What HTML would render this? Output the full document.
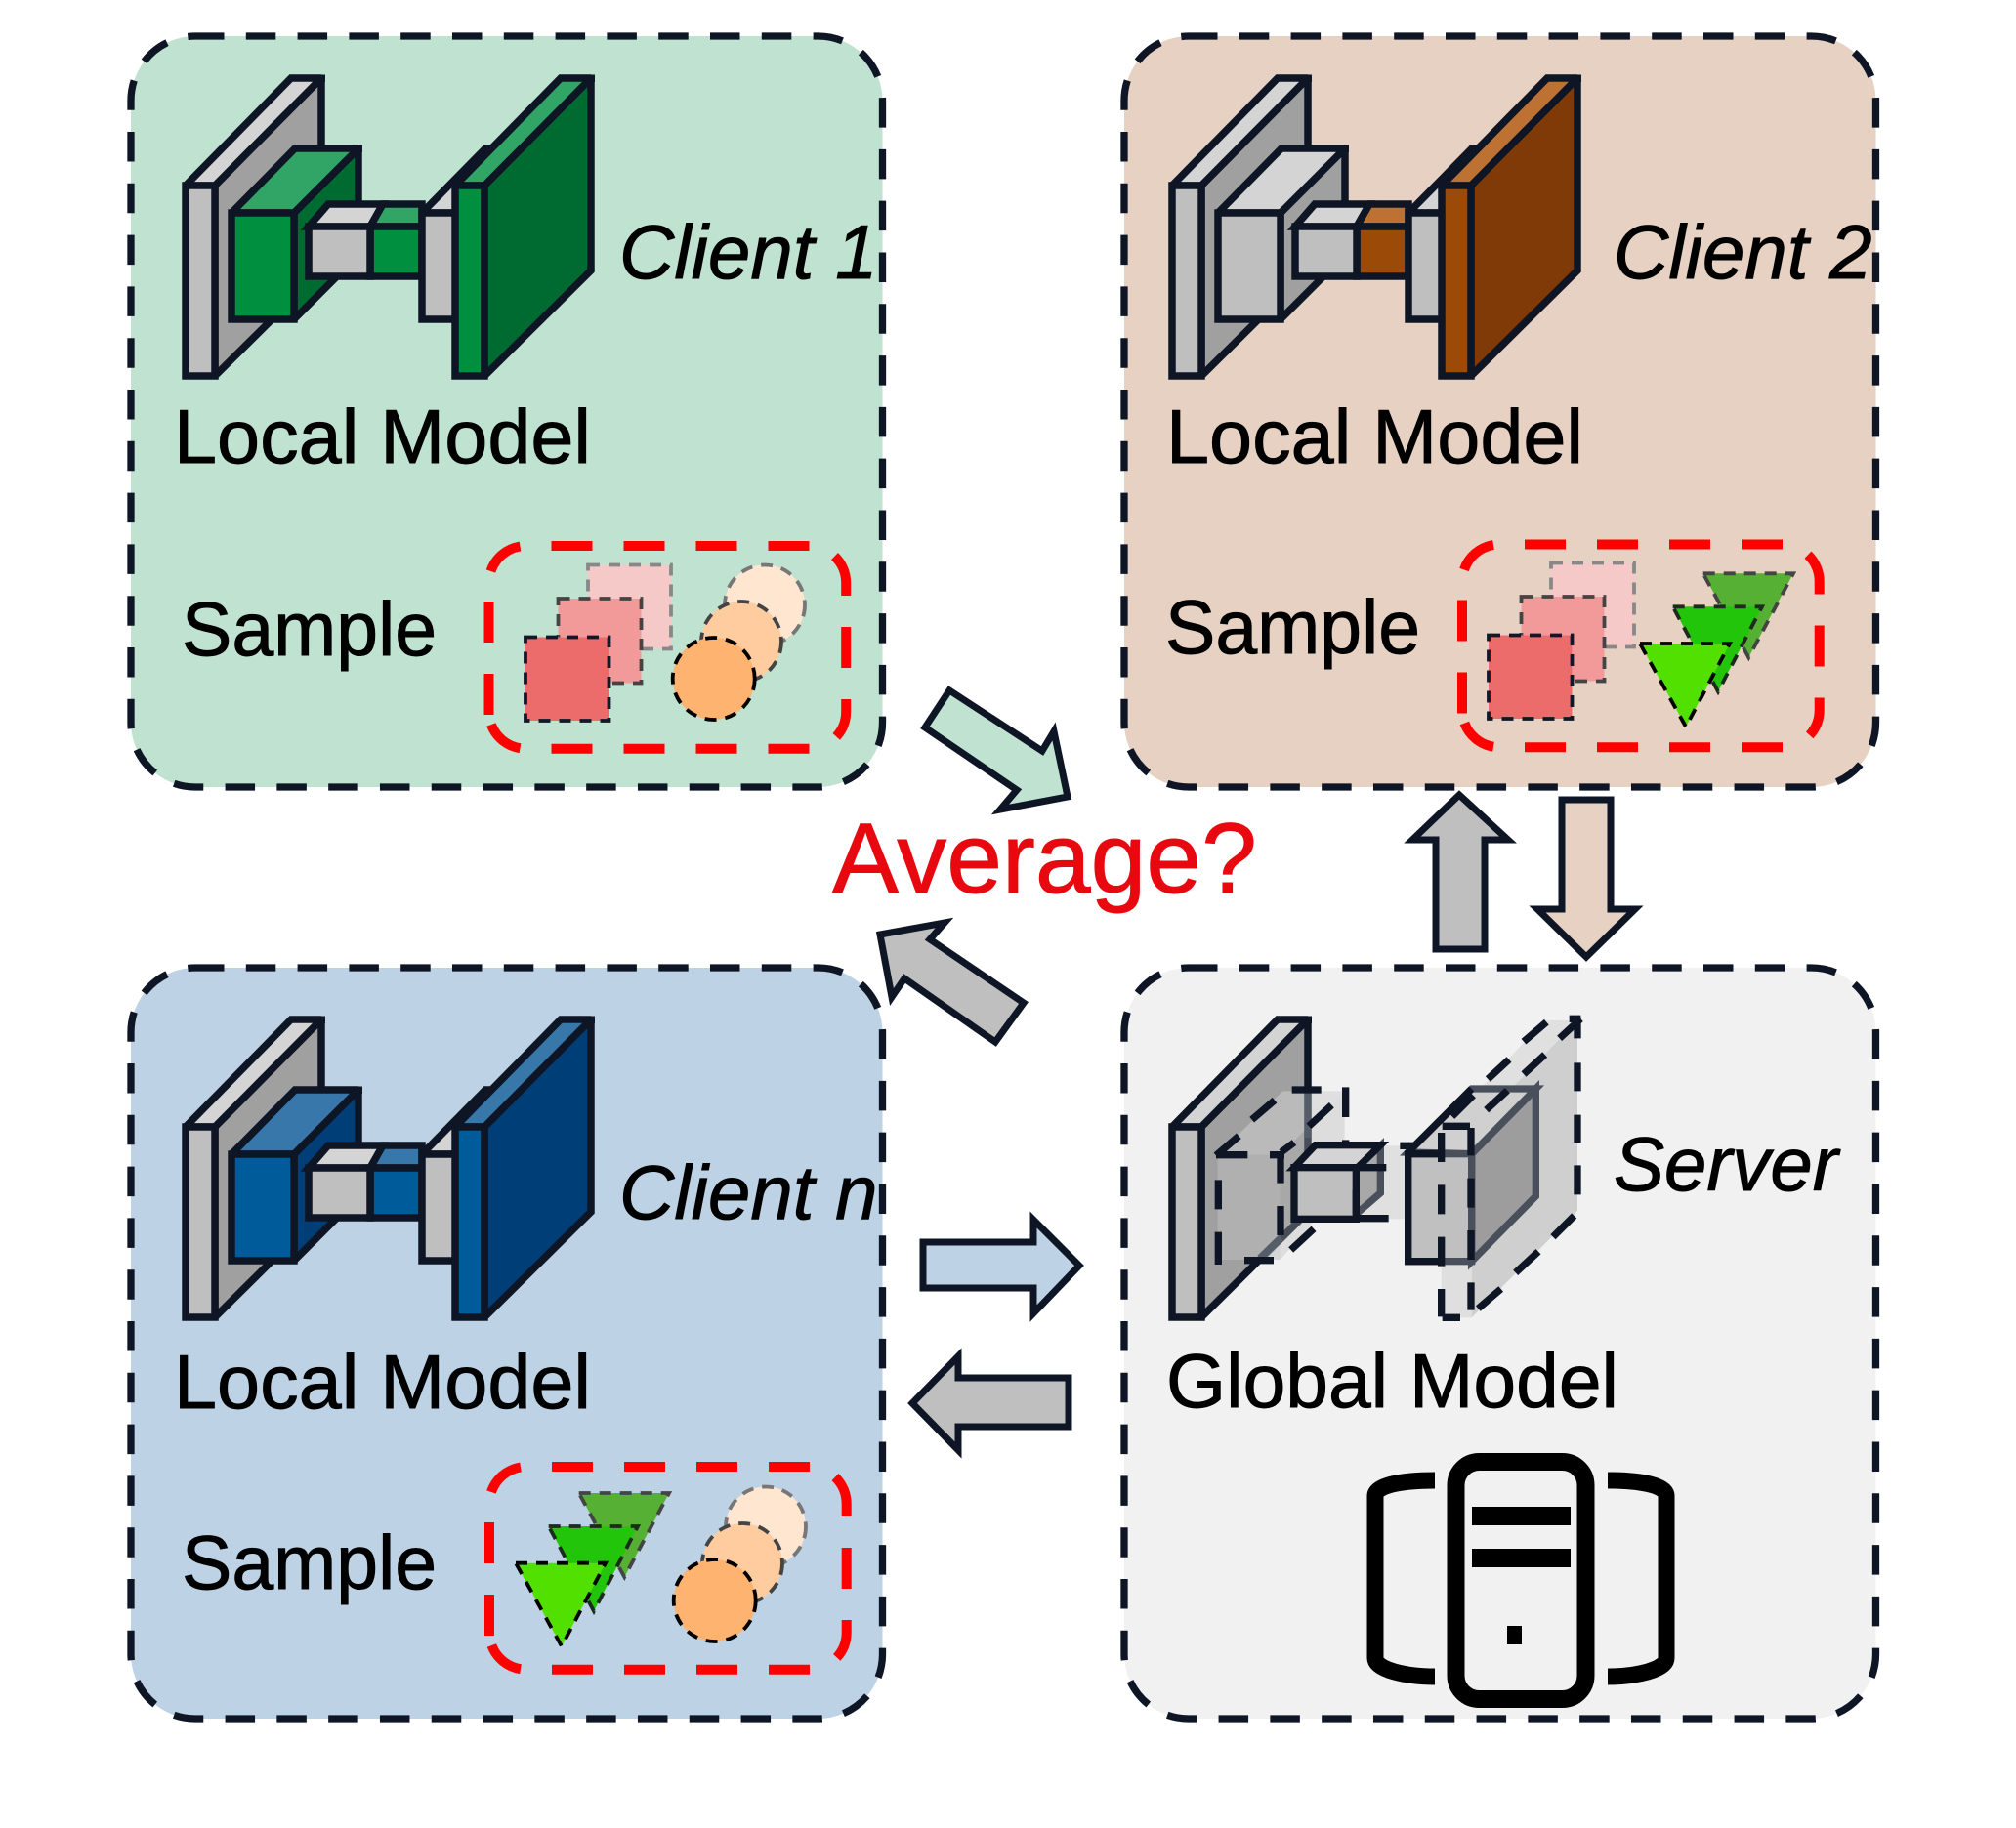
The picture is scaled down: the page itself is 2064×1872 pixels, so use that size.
<!DOCTYPE html>
<html>
<head>
<meta charset="utf-8">
<style>
html,body{margin:0;padding:0;background:#fff}
svg{display:block}
text{font-family:"Liberation Sans",sans-serif;fill:#000;stroke:#000;stroke-width:.9}
.m polygon,.m rect{stroke:#0e1525;stroke-width:7.5;stroke-linejoin:miter;stroke-miterlimit:2.5}
.lb{font-size:78px}
.it{font-size:78px;font-style:italic}
</style>
</head>
<body>
<svg width="2064" height="1872" viewBox="0 0 2064 1872" xmlns="http://www.w3.org/2000/svg">
<defs>
<g id="model" class="m">
  <polygon points="220,190 329,80 329,277 220,385" fill="#a0a0a0"/>
  <polygon points="190,190 298,80 329,80 220,190" fill="#d4d4d4"/>
  <rect x="190" y="190" width="30" height="195" fill="#bfbfbf"/>
  <polygon points="301,218 367,152 367,261 301,327" style="fill:var(--bs)"/>
  <polygon points="237,218 302,152 367,152 301,218" style="fill:var(--bt)"/>
  <rect x="237" y="218" width="64" height="109" style="fill:var(--bf)"/>
  <polygon points="336,209 392,209 379,232 316,232" fill="#d4d4d4"/>
  <polygon points="379,232 392,209 432,209 432,232" style="fill:var(--t)"/>
  <rect x="379" y="232" width="53" height="51" style="fill:var(--f)"/>
  <rect x="316" y="232" width="63" height="51" fill="#bfbfbf"/>
  <polygon points="432,218 497,152 563,152 497,218" fill="#d4d4d4"/>
  <rect x="432" y="218" width="65" height="109" fill="#bfbfbf"/>
  <polygon points="496,190 605,80 605,277 496,385" style="fill:var(--s)"/>
  <polygon points="466,190 574,80 605,80 496,190" style="fill:var(--t)"/>
  <rect x="466" y="190" width="30" height="195" style="fill:var(--f)"/>
  <path d="M325.5 76.5h7.5v7.5h-7.5zM601.5 76.5h7.5v7.5h-7.5zM363.5 148.5h7.5v7.5h-7.5z" fill="#0e1525"/>
</g>
<g id="squares" stroke-width="3.8" stroke-dasharray="12 9">
  <rect x="602" y="578.5" width="85" height="86" fill="#f6c9c9" stroke="#888"/>
  <rect x="571.5" y="613" width="85" height="86.5" fill="#f29a9a" stroke="#444"/>
  <rect x="538" y="652.5" width="85.5" height="85.5" fill="#ec6b6b" stroke="#111827"/>
</g>
<g id="circles" stroke-width="3.8" stroke-dasharray="12 9">
  <circle cx="783" cy="619.5" r="41" fill="#ffe6d0" stroke="#777"/>
  <circle cx="759" cy="657" r="41" fill="#ffcca0" stroke="#444"/>
  <circle cx="730.7" cy="695" r="42" fill="#ffb370" stroke="#000"/>
</g>
<g id="tris" stroke-width="3.8" stroke-dasharray="12 9">
  <polygon points="592.7,1529 685,1529 639.3,1615" fill="#56b033" stroke="#444"/>
  <polygon points="561.7,1563 653,1563 608,1650" fill="#22c50a" stroke="#1c2b1c"/>
  <polygon points="528,1600.7 620,1600.7 575,1686" fill="#52e000" stroke="#000"/>
</g>
<path id="redbox" fill="none" stroke="#ff0000" stroke-width="10" d="M503 1528A38 38 0 0 1 533 1502.5M565 1502H607M639 1502H681M713 1502H755M787 1502H829M855 1512.6A38 38 0 0 1 866.7 1540V1553M866.7 1585V1627M866.7 1659V1671.7A38 38 0 0 1 856.7 1697.4M829 1709.7H787M755 1709.7H713M681 1709.7H639M607 1709.7H565M533 1709.2A38 38 0 0 1 503.4 1685M501 1675V1633M501 1601V1559"/>
</defs>

<!-- Panels -->
<g stroke="#0e1525" stroke-width="7.3" stroke-dasharray="30.5 22.3" stroke-dashoffset="1">
  <rect x="134" y="37" width="769.5" height="769" rx="66" fill="#c0e2d0"/>
  <rect x="1151" y="37" width="769.5" height="769" rx="66" fill="#e6d1c2"/>
  <rect x="134" y="991" width="769.5" height="769" rx="66" fill="#bdd2e4"/>
  <rect x="1151" y="991" width="769.5" height="769" rx="66" fill="#f1f1f1"/>
</g>

<!-- Models -->
<use href="#model" style="--f:#008f3f;--t:#30a566;--s:#006b30;--bf:#008f3f;--bt:#30a566;--bs:#006b30"/>
<use href="#model" transform="translate(1010,0)" style="--f:#9c4a08;--t:#bd7234;--s:#7f3a07;--bf:#bfbfbf;--bt:#d4d4d4;--bs:#a0a0a0"/>
<use href="#model" transform="translate(0,964)" style="--f:#005b9a;--t:#3777aa;--s:#003e78;--bf:#005b9a;--bt:#3777aa;--bs:#003e78"/>

<!-- Server model -->
<g transform="translate(1010,964)" class="m">
  <polygon points="220,190 329,80 329,277 220,385" fill="#a0a0a0"/>
  <polygon points="190,190 298,80 329,80 220,190" fill="#d4d4d4"/>
  <rect x="190" y="190" width="30" height="195" fill="#bfbfbf"/>
  <path d="M325.5 76.5h7.5v7.5h-7.5z" fill="#0e1525"/>
</g>
<g transform="translate(1190,1030) scale(.33333)" fill="none" stroke="#0e1525" stroke-width="22">
  <!-- second block -->
  <g stroke="none">
    <path d="M170 458L370 262H560L362 458Z" fill="#d0d0d0" fill-opacity=".55"/>
    <path d="M362 458L560 262V555L362 780Z" fill="#b8b8b8" fill-opacity=".35"/>
    <rect x="170" y="458" width="192" height="322" fill="#bebebe" fill-opacity=".55"/>
  </g>
  <path d="M447 262V405M300 775L365 712" stroke="#555d69"/>
  <path d="M165 460L235 400M275 350L345 290M398 258H488M563 250V342M365 450L405 420M450 370L520 305M165 458H262M330 458H375M172 535V625M172 695V795M363 458V545M363 615V705M252 782H342M395 750L465 685M563 412V435"/>
  <!-- middle -->
  <rect x="595" y="430" width="150" height="225" fill="#bbb" fill-opacity=".3" stroke="none"/>
  <path d="M595 497L670 430V575L595 640Z" fill="#a8a8a8" stroke="#4a4f5c"/>
  <path d="M405 497L470 428H670L600 497Z" fill="#d4d4d4"/>
  <rect x="405" y="497" width="190" height="158" fill="#bfbfbf"/>
  <path d="M595 497H688M595 653H695M730 430H780M595 565V640"/>
  <path d="M595 497V570" stroke-width="8"/>
  <!-- plate fills -->
  <g stroke="none">
    <path d="M950 380L1275 45V630L950 958Z" fill="#cfcfcf"/>
    <path d="M857 380L1175 45H1275L950 380Z" fill="#e0e0e0"/>
    <rect x="857" y="380" width="93" height="578" fill="#dfdfdf"/>
  </g>
  <!-- right block -->
  <path d="M950 455L1147 255V585L950 785Z" fill="#9d9d9d" stroke="#4a4f5c"/>
  <path d="M755 450L950 255H1147L950 455Z" fill="#d0d0d0" stroke="#4a4f5c"/>
  <rect x="755" y="455" width="195" height="330" fill="#c0c0c0" stroke="#4a4f5c"/>
  <path d="M755 450L950 255M860 455H755V785H860"/>
  <!-- plate dashes -->
  <path d="M857 390V480M857 550V640M857 710V800M857 870V955M860 370H945M948 375V460M948 530V620M948 690V780M948 850V935M860 958H915M890 340L955 275M1000 225L1065 165M1110 110L1180 50M995 320L1060 260M1110 210L1175 150M1220 100L1285 40M1250 40H1285M1275 35V100M1275 175V262M1275 335V420M1275 490V580M970 930L1040 870M1085 820L1155 755M1200 710L1265 645"/>
</g>

<!-- Red boxes -->
<use href="#redbox" transform="translate(-.5,-943)"/>
<use href="#redbox" transform="translate(996,-944.5)"/>
<use href="#redbox"/>

<!-- Samples -->
<use href="#squares"/>
<use href="#circles"/>
<use href="#squares" transform="translate(986,-2)"/>
<use href="#tris" transform="translate(1151,-941.7)"/>
<use href="#tris"/>
<use href="#circles" transform="translate(1,944)"/>

<!-- Arrows -->
<g stroke="#0e1525" stroke-width="7" stroke-linejoin="miter" stroke-miterlimit="6">
  <polygon points="972,707 1067,769 1079,749 1093,816 1024,829 1041,809 947,745" fill="#c0e2d0"/>
  <polygon points="1494,814 1544,860 1520,860 1520,972 1470,972 1470,860 1446,860" fill="#bfbfbf"/>
  <polygon points="1599,819 1649,819 1649,931 1674,931 1624,980 1574,931 1599,931" fill="#e6d1c2"/>
  <polygon points="901,957 967,945 952,962 1048,1027 1019,1067 926,1002 913,1021" fill="#bfbfbf"/>
  <polygon points="945,1272 1058,1272 1058,1249 1105,1296 1058,1345 1058,1319 945,1319" fill="#bdd2e4"/>
  <polygon points="1094,1411 981,1411 981,1389 934,1437 981,1485 981,1461 1094,1461" fill="#bfbfbf"/>
</g>

<!-- Server icon -->
<g fill="none" stroke="#000" stroke-width="18">
  <rect x="1490.5" y="1497" width="133" height="243" rx="24"/>
  <path d="M1469 1516C1440 1516 1408 1520 1408 1532V1698C1408 1710 1440 1717 1469 1717" stroke-width="17"/>
  <path d="M1646 1516C1675 1516 1706 1520 1706 1532V1698C1706 1710 1675 1717 1646 1717" stroke-width="17"/>
</g>
<rect x="1507" y="1543" width="101" height="19" fill="#000"/>
<rect x="1507" y="1586" width="101" height="19" fill="#000"/>
<rect x="1543" y="1665" width="15" height="19" fill="#000"/>

<!-- Text -->
<text class="lb" x="178" y="474" textLength="427" lengthAdjust="spacingAndGlyphs">Local Model</text>
<text class="lb" x="1194" y="474" textLength="427" lengthAdjust="spacingAndGlyphs">Local Model</text>
<text class="lb" x="178" y="1442" textLength="427" lengthAdjust="spacingAndGlyphs">Local Model</text>
<text class="lb" x="1194" y="1441" textLength="463" lengthAdjust="spacingAndGlyphs">Global Model</text>
<text class="lb" x="186" y="671" textLength="261" lengthAdjust="spacingAndGlyphs">Sample</text>
<text class="lb" x="1193" y="669" textLength="261" lengthAdjust="spacingAndGlyphs">Sample</text>
<text class="lb" x="186" y="1627" textLength="261" lengthAdjust="spacingAndGlyphs">Sample</text>
<text class="it" x="634" y="285">Client 1</text>
<text class="it" x="1652" y="285">Client 2</text>
<text class="it" x="634" y="1248">Client n</text>
<text class="it" x="1652" y="1219">Server</text>
<text x="852" y="914" font-size="102" style="fill:#e8080f;stroke:#e8080f">Average?</text>
</svg>
</body>
</html>
